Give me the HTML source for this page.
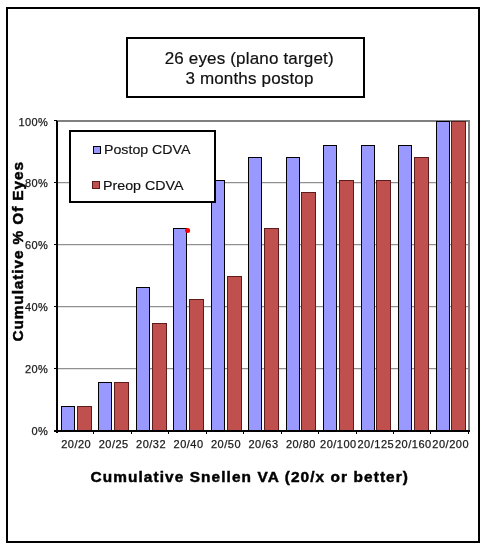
<!DOCTYPE html>
<html><head><meta charset="utf-8"><style>
html,body{margin:0;padding:0;background:#fff;width:485px;height:550px;overflow:hidden}
svg{display:block;position:absolute;left:0;top:0;will-change:transform}
</style></head><body>
<svg width="485" height="550" viewBox="0 0 485 550" shape-rendering="crispEdges">
<rect x="57" y="368" width="412" height="1" fill="#909090"/>
<rect x="57" y="369" width="412" height="1" fill="#e4e4e4"/>
<rect x="57" y="306" width="412" height="1" fill="#909090"/>
<rect x="57" y="307" width="412" height="1" fill="#e4e4e4"/>
<rect x="57" y="244" width="412" height="1" fill="#909090"/>
<rect x="57" y="245" width="412" height="1" fill="#e4e4e4"/>
<rect x="57" y="182" width="412" height="1" fill="#909090"/>
<rect x="57" y="183" width="412" height="1" fill="#e4e4e4"/>
<rect x="56" y="120" width="414" height="2" fill="#808080"/>
<rect x="468" y="120" width="2" height="311" fill="#808080"/>
<rect x="61" y="406" width="14" height="25" fill="#000"/>
<rect x="62" y="407" width="12" height="24" fill="#9999FF"/>
<rect x="77" y="406" width="15" height="25" fill="#5E1B1B"/>
<rect x="78" y="407" width="13" height="24" fill="#C0504D"/>
<rect x="98" y="382" width="14" height="49" fill="#000"/>
<rect x="99" y="383" width="12" height="48" fill="#9999FF"/>
<rect x="114" y="382" width="15" height="49" fill="#5E1B1B"/>
<rect x="115" y="383" width="13" height="48" fill="#C0504D"/>
<rect x="136" y="287" width="14" height="144" fill="#000"/>
<rect x="137" y="288" width="12" height="143" fill="#9999FF"/>
<rect x="152" y="323" width="15" height="108" fill="#5E1B1B"/>
<rect x="153" y="324" width="13" height="107" fill="#C0504D"/>
<rect x="173" y="228" width="14" height="203" fill="#000"/>
<rect x="174" y="229" width="12" height="202" fill="#9999FF"/>
<rect x="189" y="299" width="15" height="132" fill="#5E1B1B"/>
<rect x="190" y="300" width="13" height="131" fill="#C0504D"/>
<rect x="211" y="180" width="14" height="251" fill="#000"/>
<rect x="212" y="181" width="12" height="250" fill="#9999FF"/>
<rect x="227" y="276" width="15" height="155" fill="#5E1B1B"/>
<rect x="228" y="277" width="13" height="154" fill="#C0504D"/>
<rect x="248" y="157" width="14" height="274" fill="#000"/>
<rect x="249" y="158" width="12" height="273" fill="#9999FF"/>
<rect x="264" y="228" width="15" height="203" fill="#5E1B1B"/>
<rect x="265" y="229" width="13" height="202" fill="#C0504D"/>
<rect x="286" y="157" width="14" height="274" fill="#000"/>
<rect x="287" y="158" width="12" height="273" fill="#9999FF"/>
<rect x="301" y="192" width="15" height="239" fill="#5E1B1B"/>
<rect x="302" y="193" width="13" height="238" fill="#C0504D"/>
<rect x="323" y="145" width="14" height="286" fill="#000"/>
<rect x="324" y="146" width="12" height="285" fill="#9999FF"/>
<rect x="339" y="180" width="15" height="251" fill="#5E1B1B"/>
<rect x="340" y="181" width="13" height="250" fill="#C0504D"/>
<rect x="361" y="145" width="14" height="286" fill="#000"/>
<rect x="362" y="146" width="12" height="285" fill="#9999FF"/>
<rect x="376" y="180" width="15" height="251" fill="#5E1B1B"/>
<rect x="377" y="181" width="13" height="250" fill="#C0504D"/>
<rect x="398" y="145" width="14" height="286" fill="#000"/>
<rect x="399" y="146" width="12" height="285" fill="#9999FF"/>
<rect x="414" y="157" width="15" height="274" fill="#5E1B1B"/>
<rect x="415" y="158" width="13" height="273" fill="#C0504D"/>
<rect x="436" y="121" width="14" height="310" fill="#000"/>
<rect x="437" y="122" width="12" height="309" fill="#9999FF"/>
<rect x="451" y="121" width="15" height="310" fill="#5E1B1B"/>
<rect x="452" y="122" width="13" height="309" fill="#C0504D"/>
<rect x="56" y="121" width="2" height="312" fill="#000"/>
<rect x="54" y="430" width="416" height="2" fill="#000"/>
<rect x="54" y="430" width="3" height="1" fill="#000"/>
<rect x="54" y="368" width="3" height="1" fill="#000"/>
<rect x="54" y="306" width="3" height="1" fill="#000"/>
<rect x="54" y="244" width="3" height="1" fill="#000"/>
<rect x="54" y="182" width="3" height="1" fill="#000"/>
<rect x="54" y="120" width="3" height="1" fill="#000"/>
<rect x="93" y="431" width="1" height="3" fill="#000"/>
<rect x="131" y="431" width="1" height="3" fill="#000"/>
<rect x="168" y="431" width="1" height="3" fill="#000"/>
<rect x="206" y="431" width="1" height="3" fill="#000"/>
<rect x="243" y="431" width="1" height="3" fill="#000"/>
<rect x="281" y="431" width="1" height="3" fill="#000"/>
<rect x="318" y="431" width="1" height="3" fill="#000"/>
<rect x="356" y="431" width="1" height="3" fill="#000"/>
<rect x="393" y="431" width="1" height="3" fill="#000"/>
<rect x="430" y="431" width="1" height="3" fill="#000"/>
<rect x="468" y="431" width="1" height="3" fill="#000"/>
<circle cx="187.6" cy="230.6" r="2.5" fill="#FF0000" shape-rendering="geometricPrecision"/>
<rect x="70" y="131" width="145" height="71" fill="#fff" stroke="#000" stroke-width="2"/>
<rect x="93.5" y="146.5" width="7" height="7" fill="#9999FF" stroke="#000" stroke-width="1"/>
<rect x="92.5" y="181.5" width="7" height="7" fill="#C0504D" stroke="#5E1B1B" stroke-width="1"/>
<text x="104" y="154" font-family="Liberation Sans, sans-serif" font-size="12.5" fill="#111" stroke="#111" stroke-width="0.15" textLength="86.5" lengthAdjust="spacingAndGlyphs">Postop CDVA</text>
<text x="103" y="189.5" font-family="Liberation Sans, sans-serif" font-size="12.5" fill="#111" stroke="#111" stroke-width="0.15" textLength="80.5" lengthAdjust="spacingAndGlyphs">Preop CDVA</text>
<text x="48.3" y="434.5" font-family="Liberation Sans, sans-serif" font-size="11" fill="#1a1a1a" stroke="#1a1a1a" stroke-width="0.25" text-anchor="end" letter-spacing="0.4">0%</text>
<text x="48.3" y="372.6" font-family="Liberation Sans, sans-serif" font-size="11" fill="#1a1a1a" stroke="#1a1a1a" stroke-width="0.25" text-anchor="end" letter-spacing="0.4">20%</text>
<text x="48.3" y="310.7" font-family="Liberation Sans, sans-serif" font-size="11" fill="#1a1a1a" stroke="#1a1a1a" stroke-width="0.25" text-anchor="end" letter-spacing="0.4">40%</text>
<text x="48.3" y="248.8" font-family="Liberation Sans, sans-serif" font-size="11" fill="#1a1a1a" stroke="#1a1a1a" stroke-width="0.25" text-anchor="end" letter-spacing="0.4">60%</text>
<text x="48.3" y="186.9" font-family="Liberation Sans, sans-serif" font-size="11" fill="#1a1a1a" stroke="#1a1a1a" stroke-width="0.25" text-anchor="end" letter-spacing="0.4">80%</text>
<text x="48.3" y="125.7" font-family="Liberation Sans, sans-serif" font-size="11" fill="#1a1a1a" stroke="#1a1a1a" stroke-width="0.25" text-anchor="end" letter-spacing="0.4">100%</text>
<text x="76.2" y="448" font-family="Liberation Sans, sans-serif" font-size="11" fill="#1a1a1a" text-anchor="middle" letter-spacing="0.5" stroke="#1a1a1a" stroke-width="0.25">20/20</text>
<text x="113.7" y="448" font-family="Liberation Sans, sans-serif" font-size="11" fill="#1a1a1a" text-anchor="middle" letter-spacing="0.5" stroke="#1a1a1a" stroke-width="0.25">20/25</text>
<text x="151.1" y="448" font-family="Liberation Sans, sans-serif" font-size="11" fill="#1a1a1a" text-anchor="middle" letter-spacing="0.5" stroke="#1a1a1a" stroke-width="0.25">20/32</text>
<text x="188.6" y="448" font-family="Liberation Sans, sans-serif" font-size="11" fill="#1a1a1a" text-anchor="middle" letter-spacing="0.5" stroke="#1a1a1a" stroke-width="0.25">20/40</text>
<text x="226.0" y="448" font-family="Liberation Sans, sans-serif" font-size="11" fill="#1a1a1a" text-anchor="middle" letter-spacing="0.5" stroke="#1a1a1a" stroke-width="0.25">20/50</text>
<text x="263.5" y="448" font-family="Liberation Sans, sans-serif" font-size="11" fill="#1a1a1a" text-anchor="middle" letter-spacing="0.5" stroke="#1a1a1a" stroke-width="0.25">20/63</text>
<text x="300.9" y="448" font-family="Liberation Sans, sans-serif" font-size="11" fill="#1a1a1a" text-anchor="middle" letter-spacing="0.5" stroke="#1a1a1a" stroke-width="0.25">20/80</text>
<text x="338.4" y="448" font-family="Liberation Sans, sans-serif" font-size="11" fill="#1a1a1a" text-anchor="middle" letter-spacing="0.5" stroke="#1a1a1a" stroke-width="0.25">20/100</text>
<text x="375.8" y="448" font-family="Liberation Sans, sans-serif" font-size="11" fill="#1a1a1a" text-anchor="middle" letter-spacing="0.5" stroke="#1a1a1a" stroke-width="0.25">20/125</text>
<text x="413.3" y="448" font-family="Liberation Sans, sans-serif" font-size="11" fill="#1a1a1a" text-anchor="middle" letter-spacing="0.5" stroke="#1a1a1a" stroke-width="0.25">20/160</text>
<text x="450.7" y="448" font-family="Liberation Sans, sans-serif" font-size="11" fill="#1a1a1a" text-anchor="middle" letter-spacing="0.5" stroke="#1a1a1a" stroke-width="0.25">20/200</text>
<text transform="translate(90.5,482) scale(1.1,1)" x="0" y="0" font-family="Liberation Sans, sans-serif" font-size="14" font-weight="bold" fill="#000" textLength="288.64" lengthAdjust="spacing" stroke="#000" stroke-width="0.45">Cumulative Snellen VA (20/x or better)</text>
<text transform="translate(22.5,341.5) rotate(-90) scale(1.1,1)" x="0" y="0" font-family="Liberation Sans, sans-serif" font-size="14" font-weight="bold" fill="#000" textLength="163.18" lengthAdjust="spacing" stroke="#000" stroke-width="0.45">Cumulative % Of Eyes</text>
<rect x="7" y="8" width="472" height="534" fill="none" stroke="#000" stroke-width="2"/>
<rect x="127" y="38" width="237" height="59" fill="#fff" stroke="#000" stroke-width="2"/>
<text x="249.2" y="64" font-family="Liberation Sans, sans-serif" font-size="17" fill="#111" stroke="#111" stroke-width="0.2" text-anchor="middle" letter-spacing="0.17">26 eyes (plano target)</text>
<text x="249.5" y="84" font-family="Liberation Sans, sans-serif" font-size="17" fill="#111" stroke="#111" stroke-width="0.2" text-anchor="middle" letter-spacing="0.17">3 months postop</text>
</svg>
</body></html>
